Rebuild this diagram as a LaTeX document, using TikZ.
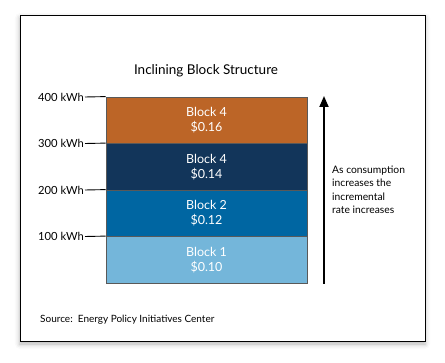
\documentclass[tikz,border=0pt]{standalone}
\usepackage{fontspec}
\setmainfont{Lato}
\usetikzlibrary{arrows.meta,shadows.blur}
\definecolor{blockone}{HTML}{74B6DA}
\definecolor{blocktwo}{HTML}{0066A2}
\definecolor{blockthree}{HTML}{12355A}
\definecolor{blockfour}{HTML}{BC6527}
\begin{document}
\begin{tikzpicture}[x=1pt,y=-1pt,
    block/.style={draw=black!65, line width=0.8pt, minimum width=201pt, minimum height=46.5pt,
      inner sep=0pt, align=center, text=white, font=\fontsize{12.5}{15}\selectfont},
    kwh/.style={anchor=east, inner sep=1pt, font=\fontsize{11.2}{12}\selectfont},
    tick/.style={line width=0.9pt}]
    \useasboundingbox (0,0) rectangle (445,363);

    % Rahmen mit Schatten
    \node[draw, line width=1pt, fill=white, minimum width=405pt, minimum height=326pt,
      inner sep=0pt, blur shadow={shadow xshift=0pt, shadow yshift=-2pt, shadow blur radius=5pt, shadow opacity=30}]
      (frame) at (222.5,179) {};

    % Titel
    \node[font=\fontsize{13.5}{15}\selectfont] (title) at (206,71) {Inclining Block Structure};

    % Bloecke (von oben nach unten)
    \node[block, fill=blockfour] (b4) at (206.5,120.25) {Block 4\\\$0.16};
    \node[block, fill=blockthree] (b3) at (206.5,166.75) {Block 4\\\$0.14};
    \node[block, fill=blocktwo] (b2) at (206.5,213.25) {Block 2\\\$0.12};
    \node[block, fill=blockone] (b1) at (206.5,259.75) {Block 1\\\$0.10};

    % Achsenbeschriftung
    \node[kwh] (k400) at (85,97) {400 kWh};
    \node[kwh] (k300) at (85,143.5) {300 kWh};
    \node[kwh] (k200) at (85,190) {200 kWh};
    \node[kwh] (k100) at (85,236.5) {100 kWh};
    \draw[tick] (k400.east) -- (b4.north west);
    \draw[tick] (k300.east) -- (b3.north west);
    \draw[tick] (k200.east) -- (b2.north west);
    \draw[tick] (k100.east) -- (b1.north west);

    % Pfeil
    \coordinate (arrbot) at (324,284);
    \coordinate (arrtop) at (324,96);
    \draw[line width=1.8pt, -{Triangle[width=9pt,length=11pt]}] (arrbot) -- (arrtop);
    \node[anchor=west, align=left, inner sep=0pt, font=\fontsize{10.3}{13.5}\selectfont] (note) at (332,190)
      {As consumption\\increases the\\incremental\\rate increases};

    % Quelle
    \node[anchor=west, inner sep=0pt, font=\fontsize{10}{12}\selectfont] (src) at (40,320)
      {Source:\ \ Energy Policy Initiatives Center};
\end{tikzpicture}
\end{document}
